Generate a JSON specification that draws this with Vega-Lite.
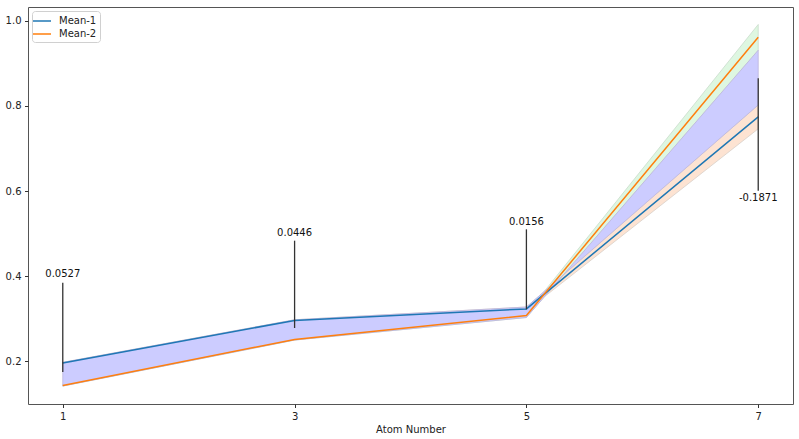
{
  "$schema": "https://vega.github.io/schema/vega-lite/v6.json",
  "width": 765,
  "height": 397,
  "autosize": {"type": "none"},
  "padding": {"left": 28, "top": 7, "right": 6, "bottom": 35},
  "background": "white",
  "datasets": {
    "means": [
      {"atom": 1, "series": "Mean-1", "mean": 0.1960, "lo": 0.1945, "hi": 0.1975},
      {"atom": 3, "series": "Mean-1", "mean": 0.2960, "lo": 0.2945, "hi": 0.2975},
      {"atom": 5, "series": "Mean-1", "mean": 0.3230, "lo": 0.3185, "hi": 0.3275},
      {"atom": 7, "series": "Mean-1", "mean": 0.7741, "lo": 0.7461, "hi": 0.8021},
      {"atom": 1, "series": "Mean-2", "mean": 0.1433, "lo": 0.1418, "hi": 0.1448},
      {"atom": 3, "series": "Mean-2", "mean": 0.2514, "lo": 0.2499, "hi": 0.2529},
      {"atom": 5, "series": "Mean-2", "mean": 0.3074, "lo": 0.3029, "hi": 0.3119},
      {"atom": 7, "series": "Mean-2", "mean": 0.9612, "lo": 0.9307, "hi": 0.9912}
    ],
    "gap": [
      {"atom": 1, "top": 0.1975, "bottom": 0.1418},
      {"atom": 3, "top": 0.2975, "bottom": 0.2499},
      {"atom": 5, "top": 0.3275, "bottom": 0.3029},
      {"atom": 7, "top": 0.8021, "bottom": 0.9307}
    ],
    "notes": [
      {"atom": 1, "from": 0.1749, "to": 0.3847, "labelY": 0.405, "label": "0.0527"},
      {"atom": 3, "from": 0.2782, "to": 0.4833, "labelY": 0.502, "label": "0.0446"},
      {"atom": 5, "from": 0.3221, "to": 0.5100, "labelY": 0.528, "label": "0.0156"},
      {"atom": 7, "from": 0.8647, "to": 0.6007, "labelY": 0.5836, "label": "-0.1871"}
    ]
  },
  "config": {
    "font": "DejaVu Sans",
    "view": {"stroke": "#555", "strokeWidth": 1},
    "axis": {
      "grid": false,
      "domain": false,
      "tickColor": "#333",
      "tickSize": 3.5,
      "labelPadding": 3.5,
      "labelFontSize": 10,
      "labelColor": "#222",
      "labelFont": "DejaVu Sans",
      "titleFont": "DejaVu Sans",
      "titleFontSize": 10,
      "titleFontWeight": "normal",
      "titleColor": "#222"
    }
  },
  "layer": [
    {
      "data": {"name": "means"},
      "transform": [{"filter": "datum.series == 'Mean-1'"}],
      "mark": {"type": "area", "color": "#fde3d2", "opacity": 1, "stroke": "#d8cfc8", "strokeWidth": 0.8},
      "encoding": {
        "x": {"field": "atom", "type": "quantitative", "scale": {"domain": [0.7, 7.3], "nice": false, "zero": false}, "axis": {"values": [1, 3, 5, 7], "title": "Atom Number", "titlePadding": 3, "format": "d"}},
        "y": {"field": "lo", "type": "quantitative", "scale": {"domain": [0.0997, 1.0322], "nice": false, "zero": false}, "axis": {"values": [0.2, 0.4, 0.6, 0.8, 1.0], "format": ".1f", "title": null}},
        "y2": {"field": "hi"}
      }
    },
    {
      "data": {"name": "means"},
      "transform": [{"filter": "datum.series == 'Mean-2'"}],
      "mark": {"type": "area", "color": "#def7e1", "opacity": 1, "stroke": "#c9dccb", "strokeWidth": 0.8},
      "encoding": {
        "x": {"field": "atom", "type": "quantitative"},
        "y": {"field": "lo", "type": "quantitative"},
        "y2": {"field": "hi"}
      }
    },
    {
      "data": {"name": "gap"},
      "mark": {"type": "area", "color": "#ccccff", "opacity": 1, "stroke": "#bdb6dc", "strokeWidth": 0.8},
      "encoding": {
        "x": {"field": "atom", "type": "quantitative"},
        "y": {"field": "top", "type": "quantitative"},
        "y2": {"field": "bottom"}
      }
    },
    {
      "data": {"name": "means"},
      "mark": {"type": "line", "strokeWidth": 1.5},
      "encoding": {
        "x": {"field": "atom", "type": "quantitative"},
        "y": {"field": "mean", "type": "quantitative"},
        "color": {
          "field": "series",
          "type": "nominal",
          "scale": {"domain": ["Mean-1", "Mean-2"], "range": ["#1f77b4", "#ff7f0e"]},
          "legend": {
            "title": null,
            "orient": "top-left",
            "offset": 4,
            "padding": 3,
            "strokeColor": "#d0d0d0",
            "fillColor": "white",
            "cornerRadius": 3,
            "labelFont": "DejaVu Sans",
            "labelFontSize": 10,
            "labelColor": "#222",
            "rowPadding": 1,
            "symbolType": "M-1.5,0H1.5",
            "symbolSize": 144,
            "symbolStrokeWidth": 1.5,
            "labelOffset": 10
          }
        }
      }
    },
    {
      "data": {"name": "notes"},
      "mark": {"type": "rule", "color": "#333", "strokeWidth": 1.3},
      "encoding": {
        "x": {"field": "atom", "type": "quantitative"},
        "y": {"field": "from", "type": "quantitative"},
        "y2": {"field": "to"}
      }
    },
    {
      "data": {"name": "notes"},
      "mark": {"type": "text", "font": "DejaVu Sans", "fontSize": 10, "color": "#111", "align": "center", "baseline": "middle"},
      "encoding": {
        "x": {"field": "atom", "type": "quantitative"},
        "y": {"field": "labelY", "type": "quantitative"},
        "text": {"field": "label"}
      }
    }
  ]
}
